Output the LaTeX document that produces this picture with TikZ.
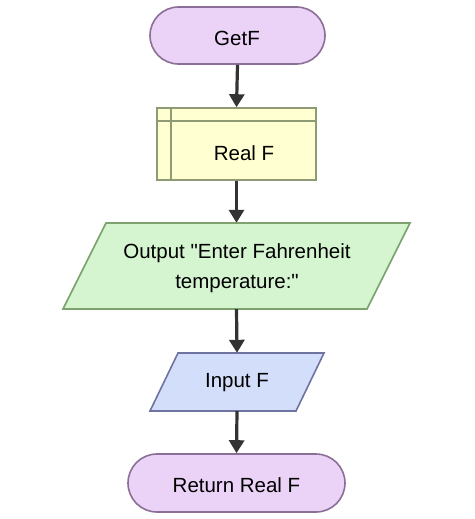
\documentclass[tikz,border=0pt]{standalone}
\usepackage{fontspec}
\setmainfont{Liberation Sans}[Ligatures=TeXOff]
\usetikzlibrary{shapes.misc,arrows.meta}
\definecolor{termfill}{HTML}{EBD3F7}
\definecolor{termdraw}{HTML}{8B6F96}
\definecolor{declfill}{HTML}{FFFFD2}
\definecolor{decldraw}{HTML}{8E9A73}
\definecolor{outfill}{HTML}{D5F5D1}
\definecolor{outdraw}{HTML}{7EA36F}
\definecolor{infill}{HTML}{D2DEFA}
\definecolor{indraw}{HTML}{6E73A0}
\definecolor{arrowcol}{HTML}{333333}
\tikzset{
  txt/.style={font=\fontsize{20.5}{30}\selectfont, align=center, inner sep=0pt},
  term/.style={txt, rounded rectangle, draw=termdraw, fill=termfill, line width=1.6pt},
  declbox/.style={txt, rectangle, draw=decldraw, fill=declfill, line width=1.6pt},
  outshape/.style={draw=outdraw, fill=outfill, line width=1.6pt, line join=miter},
  inshape/.style={draw=indraw, fill=infill, line width=1.6pt, line join=miter},
  flow/.style={draw=arrowcol, line width=3.2pt, -{Triangle[width=15pt,length=13pt]}},
}
\begin{document}
\begin{tikzpicture}[x=1pt,y=-1pt]
\useasboundingbox (0,0) rectangle (474,519);
\fill[white] (0,0) rectangle (474,519);
% GetF
\node[term, minimum width=175pt, minimum height=57pt] (getf) at (237.5,35.5) {};
\node[txt] (getftxt) at (237,38) {GetF};
% Real F
\node[declbox, minimum width=159pt, minimum height=72pt] (realf) at (236.5,144) {};
\draw[decldraw, line width=1.6pt] ([xshift=15pt]realf.north west) -- ([xshift=15pt]realf.south west);
\draw[decldraw, line width=1.6pt] ([yshift=-14pt]realf.north west) -- ([yshift=-14pt]realf.north east);
\node[txt] (realftxt) at (244,153) {Real F};
% Output
\draw[outshape] (106,223) -- (410,223) -- (367,309) -- (63,309) -- cycle;
\node[txt, minimum height=86pt, minimum width=200pt] (out) at (236.5,266) {};
\node[txt] (outtxt) at (237,268) {Output "Enter Fahrenheit\\temperature:"};
% Input
\draw[inshape] (178,353) -- (324,353) -- (296,411) -- (150,411) -- cycle;
\node[txt, minimum height=58pt, minimum width=100pt] (inp) at (237,382) {};
\node[txt] (inptxt) at (237,383) {Input F};
% Return
\node[term, minimum width=217pt, minimum height=58pt] (ret) at (236.5,483) {};
\node[txt] (rettxt) at (236.5,485) {Return Real F};
% arrows
\draw[flow] (getf.south) -- (realf.north);
\draw[flow] (realf.south) -- (out.north);
\draw[flow] (out.south) -- (inp.north);
\draw[flow] (inp.south) -- (ret.north);
\end{tikzpicture}
\end{document}
